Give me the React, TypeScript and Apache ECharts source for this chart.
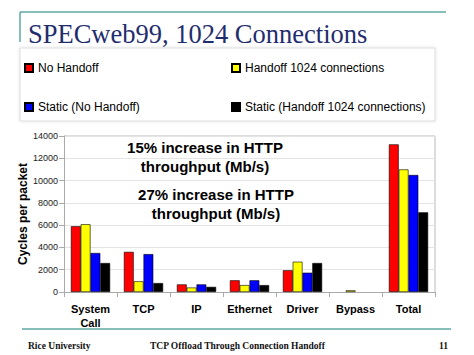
import React, { useEffect, useRef } from "react";
import * as echarts from "echarts";

const categories = ["System\nCall", "TCP", "IP", "Ethernet", "Driver", "Bypass", "Total"];
const seriesNames = ["No Handoff", "Handoff 1024 connections", "Static (No Handoff)", "Static (Handoff 1024 connections)"];
const noHandoff = [5900, 3600, 680, 1050, 1950, 0, 13250];
const handoff1024 = [6080, 960, 400, 620, 2720, 150, 11000];
const staticNoHandoff = [3500, 3400, 680, 1050, 1730, 0, 10500];
const staticHandoff1024 = [2600, 800, 460, 620, 2600, 0, 7150];
const colors = ["#ff0000", "#ffff00", "#0000ff", "#000000"];
const yTicks = [0, 14000, 2000];

export default function App() {
  const ref = useRef<HTMLDivElement>(null);
  useEffect(() => {
    if (!ref.current) return;
    const chart = echarts.init(ref.current, undefined, { renderer: "svg" });
    const data = [noHandoff, handoff1024, staticNoHandoff, staticHandoff1024];
    const teal = "#5fa8a2";
    const legendPos = [
      { left: 19, top: 57 },
      { left: 226, top: 57 },
      { left: 19, top: 96 },
      { left: 226, top: 96 },
    ];
    const annFont = "bold 15px 'Liberation Sans', Arial";
    const footFont = "bold 9.5px 'Liberation Serif', serif";
    chart.setOption({
      animation: false,
      backgroundColor: "#ffffff",
      grid: { left: 64, right: 39, top: 136, bottom: 63 },
      legend: seriesNames.map((n, i) => ({
        data: [n],
        left: legendPos[i].left,
        top: legendPos[i].top,
        itemWidth: 8,
        itemHeight: 8,
        itemGap: 6,
        icon: "rect",
        selectedMode: false,
        textStyle: { fontFamily: "Liberation Sans, Arial", fontSize: 12, color: "#000" },
      })),
      xAxis: {
        type: "category",
        data: categories,
        axisLine: { lineStyle: { color: "#aaaaaa" } },
        axisTick: { show: true, lineStyle: { color: "#aaaaaa" } },
        axisLabel: {
          color: "#000",
          fontFamily: "Liberation Sans, Arial",
          fontWeight: "bold",
          fontSize: 11,
          margin: 10,
          lineHeight: 14,
          interval: 0,
        },
      },
      yAxis: {
        type: "value",
        min: yTicks[0],
        max: yTicks[1],
        interval: yTicks[2],
        name: "Cycles per packet",
        nameLocation: "middle",
        nameGap: 35,
        nameMoveOverlap: false,
        nameTextStyle: { fontFamily: "Liberation Sans, Arial", fontWeight: "bold", fontSize: 12, color: "#000" },
        axisLine: { show: true, lineStyle: { color: "#aaaaaa" } },
        axisTick: { show: true, lineStyle: { color: "#aaaaaa" } },
        axisLabel: {
          fontFamily: "Liberation Sans, Arial",
          fontSize: 9,
          color: "#222",
          margin: 6,
          formatter: (v: number) => String(v),
        },
        splitLine: { lineStyle: { color: "#e4e4e4" } },
      },
      series: seriesNames.map((n, i) => ({
        name: n,
        type: "bar",
        data: data[i].map((v) => (v === 0 ? null : v)),
        barGap: "0%",
        barCategoryGap: "26%",
        itemStyle: { color: colors[i], borderColor: "#000", borderWidth: 0.6 },
      })),
      graphic: [
        { type: "line", shape: { x1: 64, y1: 136, x2: 435, y2: 136 }, style: { stroke: "#bbbbbb", lineWidth: 1 } },
        { type: "line", shape: { x1: 435, y1: 136, x2: 435, y2: 292 }, style: { stroke: "#bbbbbb", lineWidth: 1 } },
        { type: "line", shape: { x1: 20, y1: 12, x2: 446, y2: 12 }, style: { stroke: teal, lineWidth: 1.5 } },
        { type: "line", shape: { x1: 20, y1: 12, x2: 20, y2: 42 }, style: { stroke: teal, lineWidth: 1.5 } },
        {
          type: "text",
          x: 28,
          y: 34,
          style: { text: "SPECweb99, 1024 Connections", font: "26.5px 'Liberation Serif', serif", fill: "#1f2d6e", verticalAlign: "middle" },
        },
        {
          type: "rect",
          shape: { x: 20, y: 48, width: 415, height: 73 },
          style: { fill: "#ffffff", stroke: "#dddddd", lineWidth: 1, shadowColor: "rgba(0,0,0,0.12)", shadowBlur: 3 },
          z: -1,
        },
        { type: "text", x: 205, y: 147, style: { text: "15% increase in HTTP", font: annFont, fill: "#000", align: "center", verticalAlign: "middle" } },
        { type: "text", x: 205, y: 166, style: { text: "throughput (Mb/s)", font: annFont, fill: "#000", align: "center", verticalAlign: "middle" } },
        { type: "text", x: 216, y: 194, style: { text: "27% increase in HTTP", font: annFont, fill: "#000", align: "center", verticalAlign: "middle" } },
        { type: "text", x: 216, y: 213, style: { text: "throughput (Mb/s)", font: annFont, fill: "#000", align: "center", verticalAlign: "middle" } },
        { type: "line", shape: { x1: 22, y1: 329, x2: 451, y2: 329 }, style: { stroke: teal, lineWidth: 1.5 } },
        { type: "text", x: 28, y: 346, style: { text: "Rice University", font: footFont, fill: "#111", verticalAlign: "middle" } },
        { type: "text", x: 150, y: 346, style: { text: "TCP Offload Through Connection Handoff", font: footFont, fill: "#111", verticalAlign: "middle" } },
        { type: "text", x: 439, y: 346, style: { text: "11", font: footFont, fill: "#111", verticalAlign: "middle" } },
      ],
    });
    return () => chart.dispose();
  }, []);
  return <div ref={ref} style={{ position: "absolute", left: 0, top: 0, width: 474, height: 355 }} />;
}
